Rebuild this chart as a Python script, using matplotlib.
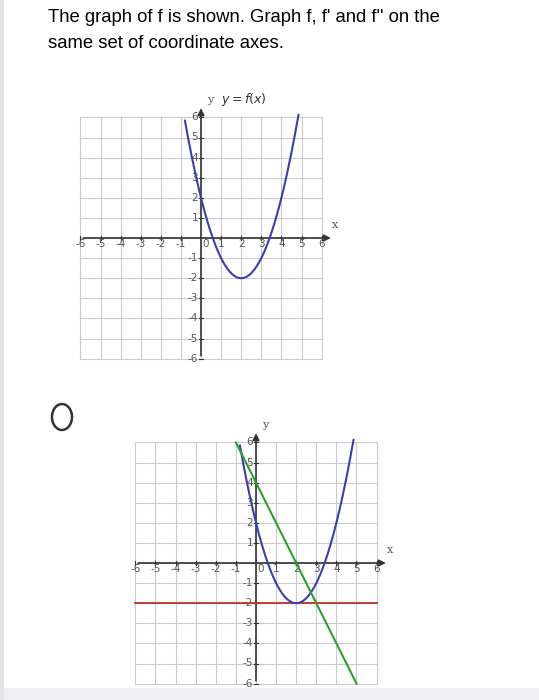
import numpy as np
import matplotlib
matplotlib.use("Agg")
import matplotlib.pyplot as plt
from matplotlib.patches import Rectangle, Circle

# data
f_coef = [1, -4, 2]          # f(x) = x^2 - 4x + 2
f_xrange = [-0.8, 4.85]
green_coef = [-2, 4]          # line y = -2x + 4
green_xrange = [-1, 5]
red_value = -2
ticks = [-6, -5, -4, -3, -2, -1, 1, 2, 3, 4, 5, 6]

W, H = 539, 700
fig = plt.figure(figsize=(W/100, H/100), dpi=100)
fig.patch.set_facecolor("white")
fig.text(48/W, 1-18/H, "The graph of f is shown. Graph f, f' and f'' on the",
         fontsize=13.3, va="center", family="Liberation Sans")
fig.text(48/W, 1-44/H, "same set of coordinate axes.", fontsize=13.3, va="center", family="Liberation Sans")

def make_axes(x0, y0, u, ylo):
    xl, xr, yt = -7, 7.5, 7.5
    left = (x0 + u*xl)/W; right = (x0 + u*xr)/W
    top = 1-(y0 - u*yt)/H; bot = 1-(y0 - u*ylo)/H
    ax = fig.add_axes([left, bot, right-left, top-bot])
    ax.set_xlim(xl, xr); ax.set_ylim(ylo, yt)
    ax.axis("off")
    for i in range(-6, 7):
        ax.plot([i, i], [-6, 6], color="#c9c9d6", lw=0.8, zorder=1)
        ax.plot([-6, 6], [i, i], color="#c9c9d6", lw=0.8, zorder=1)
    ax.annotate("", xy=(6.6, 0), xytext=(-6, 0),
                arrowprops=dict(arrowstyle="-|>", color="#333", lw=1.2, mutation_scale=10), zorder=3)
    ax.annotate("", xy=(0, 6.6), xytext=(0, -6),
                arrowprops=dict(arrowstyle="-|>", color="#333", lw=1.2, mutation_scale=10), zorder=3)
    for t in ticks:
        ax.text(t, -0.3, str(t), ha="center", va="center", fontsize=7.5, color="#555", zorder=4)
        ax.text(-0.15, t, str(t), ha="right", va="center", fontsize=7.5, color="#555", zorder=4)
        ax.plot([-0.12, 0.12], [t, t], color="#333", lw=0.8, zorder=3)
        ax.plot([t, t], [-0.12, 0.12], color="#333", lw=0.8, zorder=3)
    ax.text(0.05, -0.3, "0", ha="left", va="center", fontsize=7.5, color="#555")
    ax.text(6.5, 0.5, "x", fontsize=8, color="#555", family="DejaVu Serif")
    ax.text(0.3, 6.7, "y", fontsize=8, color="#555", family="DejaVu Serif")
    return ax

ax1 = make_axes(201, 238, 20.1, -7)
x = np.linspace(*f_xrange, 200)
ax1.plot(x, np.polyval(f_coef, x), color="#3d3fa8", lw=1.5, zorder=5)
ax1.text(1.0, 6.7, "$y = f(x)$", fontsize=9, color="#333")

ax2 = make_axes(256, 563, 20.1, -6.4)
ax2.plot(x, np.polyval(f_coef, x), color="#3d3fa8", lw=1.5, zorder=5)
xg = np.array(green_xrange)
ax2.plot(xg, np.polyval(green_coef, xg), color="#2e9e2e", lw=1.5, zorder=5)
ax2.plot([-6, 6], [red_value, red_value], color="#c0302a", lw=1.3, zorder=4)

fig.patches.append(Circle((62/W, 1-417/H), 10/W, transform=fig.transFigure,
                          fill=False, ec="#333", lw=1.8))
fig.patches.append(Rectangle((0, 0), 1, 12/H, transform=fig.transFigure,
                             fc="#efeff2", ec="none", zorder=10))
fig.patches.append(Rectangle((0, 0), 4/W, 1, transform=fig.transFigure,
                             fc="#e4e4e8", ec="none", zorder=10))
fig.savefig("out.png", dpi=100)
